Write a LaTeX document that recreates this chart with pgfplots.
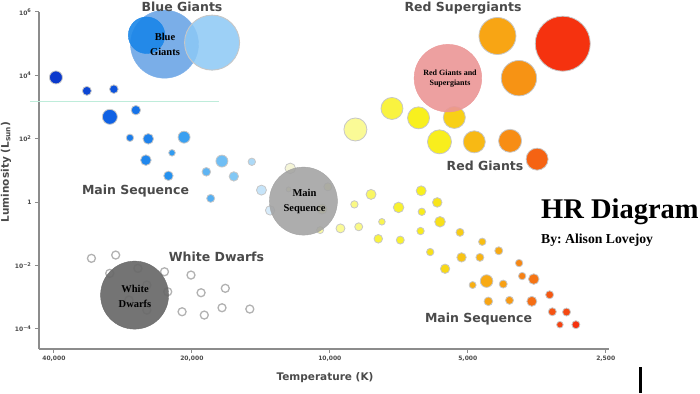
\documentclass[border=0pt]{standalone}
\usepackage{pgfplots}
\pgfplotsset{compat=1.18}
\usepackage{fontspec}
\setmainfont{Liberation Serif}
\setsansfont{DejaVu Sans}
\newfontfamily\lab{DejaVu Sans}
\frenchspacing
\definecolor{axgray}{HTML}{8C8C8C}
\definecolor{labgray}{HTML}{4A4A4A}
\definecolor{lbblue}{RGB}{122,174,232}
\definecolor{lrpink}{RGB}{235,150,150}
\definecolor{lmgray}{RGB}{162,162,162}
\definecolor{lwgray}{RGB}{105,105,105}
\definecolor{bgdark}{RGB}{26,134,232}
\definecolor{bglight}{RGB}{140,200,245}
\definecolor{mint}{RGB}{190,236,218}
\pgfplotstableread{
T L r c
39600 8600 6.5 2
33900 3240 4.5 6
29600 3670 4.3 10
30200 491 7.5 14
26500 798 4.7 18
27300 107 3.7 20
24900 99.3 5.3 21
20800 112 6 27
22100 35.9 3.3 26
25200 21.1 5.3 22
22500 6.76 4.7 24
17200 19.7 6 33
18600 9.03 4.3 31
16200 6.47 4.7 35
14800 18.7 3.7 40
18200 1.31 4 30
14100 2.39 5 43
13500 0.547 4.7 45
12200 11.6 5.3 50
12300 2.52 2.5 52
10100 3.04 4 54
10400 0.601 5 55
10500 0.131 3.5 54
9480 0.148 4.5 55
8650 0.166 4 56
8840 0.846 3.7 56
8130 1.75 5 58
7700 0.239 3.3 59
7840 0.0695 4.3 60
7080 0.680 5.3 61
7020 0.0633 4 61
6320 2.27 5 62
6300 0.494 3.7 63
6340 0.122 3.7 63
5830 0.978 4.8 65
5750 0.239 5.3 66
6040 0.0265 3.7 66
5200 0.111 4 71
5605 0.00787 4.7 68
4650 0.0560 3.7 74
4705 0.0180 4 76
5160 0.0180 4.7 73
4280 0.0291 4 78
4880 0.00241 3.5 77
4550 0.00322 6.3 78
4185 0.00259 4 80
3865 0.0119 3.7 84
3805 0.00463 3.7 85
3590 0.00372 5.3 87
4510 0.000738 4.3 79
4055 0.000793 4 81
3625 0.000738 5 88
3315 0.00119 4 92
3270 0.000346 4 93
3045 0.000339 4 95
3148 0.000135 3.3 96
2905 0.000135 4 99
8795 196 11.5 55
7320 903 11 60
6405 456 11 62
5350 470 11 70
5765 79.8 12 62.5
4840 79.8 11 75
4043 85.9 11.5 83
3530 22.7 11 90
4308 175000 18.5 79
3103 100000 27.5 99
3868 8160 17.7 82
}\stars
\begin{document}
\begin{tikzpicture}
\path[use as bounding box] (-39pt,-44pt) rectangle (661pt,349pt);
\begin{axis}[
  scale only axis, width=570pt, height=337pt,
  xmode=log, ymode=log, x dir=reverse,
  xmin=2460, xmax=43120, ymin=2.31e-5, ymax=1e6,
  axis x line*=bottom, axis y line*=left,
  axis line style={axgray, line width=1.2pt},
  xminorticks=false, yminorticks=false,
  tick align=outside, major tick length=4pt,
  tick style={axgray, line width=1pt},
  xtick={2500,5000,10000,20000,40000},
  xticklabels={{2,500},{5,000},{10,000},{20,000},{40,000}},
  ytick={1e-4,1e-2,1,1e2,1e4,1e6},
  yticklabels={10\textsuperscript{−4},10\textsuperscript{−2},1,10\textsuperscript{2},10\textsuperscript{4},10\textsuperscript{6}},
  ticklabel style={font=\lab\bfseries\fontsize{6}{7}\selectfont, text=labgray},
  clip=false,
  colormap={hr}{rgb255(0cm)=(10,50,200) rgb255(15cm)=(15,100,230) rgb255(25cm)=(40,150,240) rgb255(35cm)=(130,200,245) rgb255(45cm)=(215,235,250) rgb255(50cm)=(245,245,215) rgb255(55cm)=(250,250,150) rgb255(62cm)=(248,240,30) rgb255(72cm)=(248,200,20) rgb255(80cm)=(248,160,20) rgb255(88cm)=(245,110,20) rgb255(100cm)=(245,45,15)},
  point meta min=0, point meta max=100,
]
\addplot[scatter, only marks, mark=*, point meta=explicit,
  scatter/use mapped color={draw=black!22, fill=mapped color},
  visualization depends on={\thisrow{r} \as \rad},
  scatter/@pre marker code/.append style={/tikz/mark size=\rad},
  line width=0.8pt] table[x=T, y=L, meta=c] {\stars};
% white dwarfs
\addplot[black!30, only marks, mark=*, mark size=4, mark options={fill=white, draw=black!30, line width=1.3pt}] coordinates {
(33130,0.0168) (29330,0.0213) (30220,0.00563) (26230,0.00811) (22950,0.00633) (20090,0.00498) (25080,0.00241) (22580,0.00148) (19100,0.00138) (16910,0.00190) (27440,0.000810) (25080,0.000392) (21010,0.000346) (18790,0.000272) (17190,0.000463) (14950,0.000421)};
% label circles
\addplot[lrpink, only marks, mark=*, mark size=33.8, mark options={fill=lrpink, draw=none, fill opacity=0.9}] coordinates {(5525,8160)};
\addplot[lmgray, only marks, mark=*, mark size=34, mark options={fill=lmgray, draw=none, fill opacity=0.88}] coordinates {(11420,1.075)};
\addplot[lwgray, only marks, mark=*, mark size=34, mark options={fill=lwgray, draw=none, fill opacity=0.93}] coordinates {(26670,0.00116)};
\addplot[lbblue, only marks, mark=*, mark size=34, mark options={fill=lbblue, draw=none}] coordinates {(22950,96400)};
\addplot[bgdark, only marks, mark=*, mark size=18.3, mark options={fill=bgdark, draw=none, fill opacity=0.9}] coordinates {(25110,185000)};
\addplot[black!22, only marks, mark=*, mark size=27.5, mark options={fill=bglight, draw=black!22, line width=0.9pt, fill opacity=0.85}] coordinates {(18070,108000)};
\end{axis}
\node[align=center, font=\bfseries\fontsize{10.5}{15}\selectfont] at (126pt,304.5pt) {Blue\\Giants};
\node[align=center, font=\bfseries\fontsize{10.5}{15}\selectfont] at (265.5pt,147.5pt) {Main\\Sequence};
\node[align=center, font=\bfseries\fontsize{10.5}{15}\selectfont] at (96pt,53pt) {White\\Dwarfs};
\node[align=center, font=\bfseries\fontsize{8}{10.5}\selectfont] at (411pt,270.5pt) {Red Giants and\\Supergiants};
\draw[mint, line width=1pt] (-9pt,247pt) -- (180pt,247pt);
\draw[black, line width=2.2pt] (601.5pt,-18pt) -- (601.5pt,-44pt);
\begin{scope}[every node/.style={font=\lab\bfseries\fontsize{12.5}{14}\selectfont, text=labgray, anchor=base, inner sep=0pt}]
\node at (143pt,337pt) {Blue Giants};
\node at (424pt,337.5pt) {Red Supergiants};
\node at (96.5pt,154.3pt) {Main Sequence};
\node at (177.5pt,87.3pt) {White Dwarfs};
\node at (446pt,178.3pt) {Red Giants};
\node at (439.5pt,26.3pt) {Main Sequence};
\end{scope}
\node[font=\lab\bfseries\fontsize{10.5}{12}\selectfont, text=labgray, anchor=base, inner sep=0pt] at (286pt,-31pt) {Temperature (K)};
\node[font=\lab\bfseries\fontsize{10.5}{12}\selectfont, text=labgray, rotate=90, inner sep=0pt] at (-33pt,177pt) {Luminosity (L\textsubscript{sun})};
\node[font=\bfseries\fontsize{28.5}{30}\selectfont, anchor=base west, inner sep=0pt] at (502pt,130.7pt) {HR Diagram};
\node[font=\bfseries\fontsize{13.7}{15}\selectfont, anchor=base west, inner sep=0pt] at (502pt,105pt) {By: Alison Lovejoy};
\end{tikzpicture}
\end{document}
